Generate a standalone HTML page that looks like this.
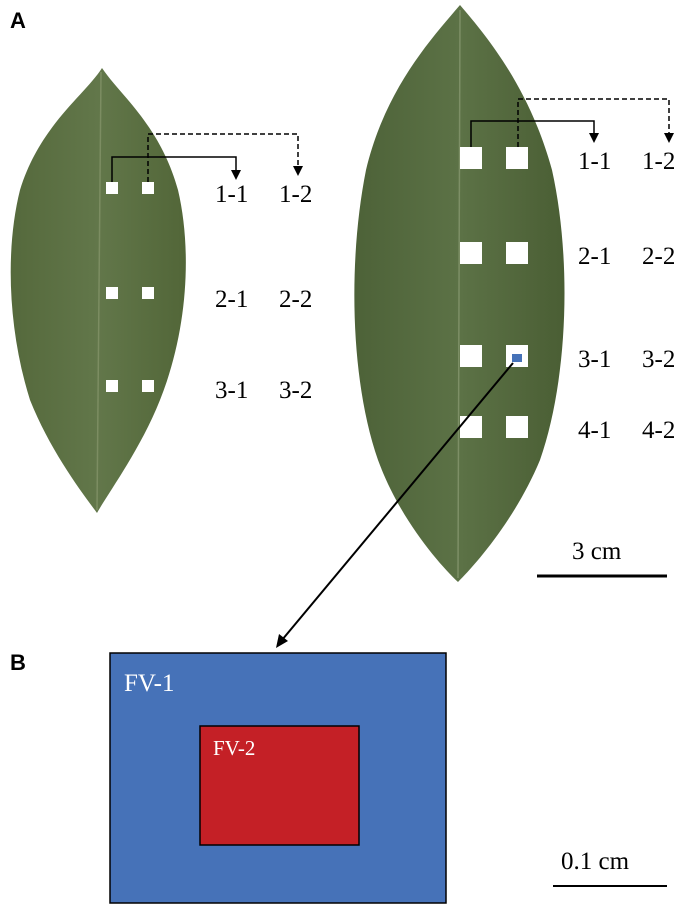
<!DOCTYPE html>
<html><head><style>body{margin:0;background:#fff}svg{display:block}</style></head><body>
<svg width="694" height="910" viewBox="0 0 694 910" xmlns="http://www.w3.org/2000/svg" font-family="Liberation Serif, serif">
<defs>
<linearGradient id="g1" x1="0" x2="1"><stop offset="0" stop-color="#55693c"/><stop offset="0.5" stop-color="#62774a"/><stop offset="1" stop-color="#526638"/></linearGradient>
<linearGradient id="g2" x1="0" x2="1"><stop offset="0" stop-color="#4d6238"/><stop offset="0.5" stop-color="#5c7246"/><stop offset="1" stop-color="#4a5e34"/></linearGradient>
</defs>
<text x="10" y="28" font-family="Liberation Sans, sans-serif" font-weight="bold" font-size="22">A</text>
<text x="10" y="670" font-family="Liberation Sans, sans-serif" font-weight="bold" font-size="22">B</text>
<path d="M102,68 C120,95 160,125 178,190 C192,250 188,330 160,400 C140,450 110,490 97,513 C80,490 50,450 30,400 C8,330 5,250 20,190 C40,125 85,95 102,68 Z" fill="url(#g1)"/>
<line x1="101" y1="72" x2="97" y2="510" stroke="#7c8d62" stroke-width="1.5"/>
<path d="M460,5 C490,40 530,90 552,170 C572,260 568,380 540,460 C515,520 475,565 458,582 C440,565 400,520 378,460 C350,380 348,260 366,170 C385,90 430,40 460,5 Z" fill="url(#g2)"/>
<line x1="460" y1="10" x2="458" y2="578" stroke="#7d8f66" stroke-width="1.5"/>
<g fill="#fff">
<rect x="106" y="182" width="12" height="12"/><rect x="142" y="182" width="12" height="12"/>
<rect x="106" y="287" width="12" height="12"/><rect x="142" y="287" width="12" height="12"/>
<rect x="106" y="380" width="12" height="12"/><rect x="142" y="380" width="12" height="12"/>
<rect x="460" y="147" width="22" height="22"/><rect x="506" y="147" width="22" height="22"/>
<rect x="460" y="242" width="22" height="22"/><rect x="506" y="242" width="22" height="22"/>
<rect x="460" y="345" width="22" height="22"/><rect x="506" y="345" width="22" height="22"/>
<rect x="460" y="416" width="22" height="22"/><rect x="506" y="416" width="22" height="22"/>
</g>
<rect x="512" y="354" width="10" height="8" fill="#4672b8"/>
<g fill="none" stroke="#000" stroke-width="1.5">
<path d="M112,182 V157 H236 V172"/>
<path d="M148,182 V134 H298 V168" stroke-dasharray="5,3"/>
<path d="M471,147 V121 H594 V135"/>
<path d="M518,147 V99 H669 V135" stroke-dasharray="5,3"/>
</g>
<g fill="#000">
<path d="M231,170 L241,170 L236,180 Z"/><path d="M293,166 L303,166 L298,176 Z"/>
<path d="M589,133 L599,133 L594,143 Z"/><path d="M664,133 L674,133 L669,143 Z"/>
</g>
<g font-size="25" fill="#000">
<text x="215" y="202">1-1</text><text x="279" y="202">1-2</text>
<text x="215" y="307">2-1</text><text x="279" y="307">2-2</text>
<text x="215" y="398">3-1</text><text x="279" y="398">3-2</text>
<text x="578" y="169">1-1</text><text x="642" y="169">1-2</text>
<text x="578" y="264">2-1</text><text x="642" y="264">2-2</text>
<text x="578" y="367">3-1</text><text x="642" y="367">3-2</text>
<text x="578" y="438">4-1</text><text x="642" y="438">4-2</text>
<text x="572" y="559">3 cm</text>
<text x="561" y="869">0.1 cm</text>
</g>
<line x1="537" y1="576" x2="667" y2="576" stroke="#000" stroke-width="3"/>
<line x1="553" y1="886" x2="667" y2="886" stroke="#000" stroke-width="2"/>
<line x1="513" y1="363" x2="282" y2="640" stroke="#000" stroke-width="2"/>
<path d="M276,648 L279,634 L288,641 Z" fill="#000"/>
<rect x="110" y="653" width="336" height="250" fill="#4672b8" stroke="#000" stroke-width="1.5"/>
<rect x="200" y="726" width="159" height="119" fill="#c42026" stroke="#000" stroke-width="1.5"/>
<text x="124" y="691" font-size="25" fill="#fff">FV-1</text>
<text x="213" y="755" font-size="21" fill="#fff">FV-2</text>
</svg>
</body></html>
